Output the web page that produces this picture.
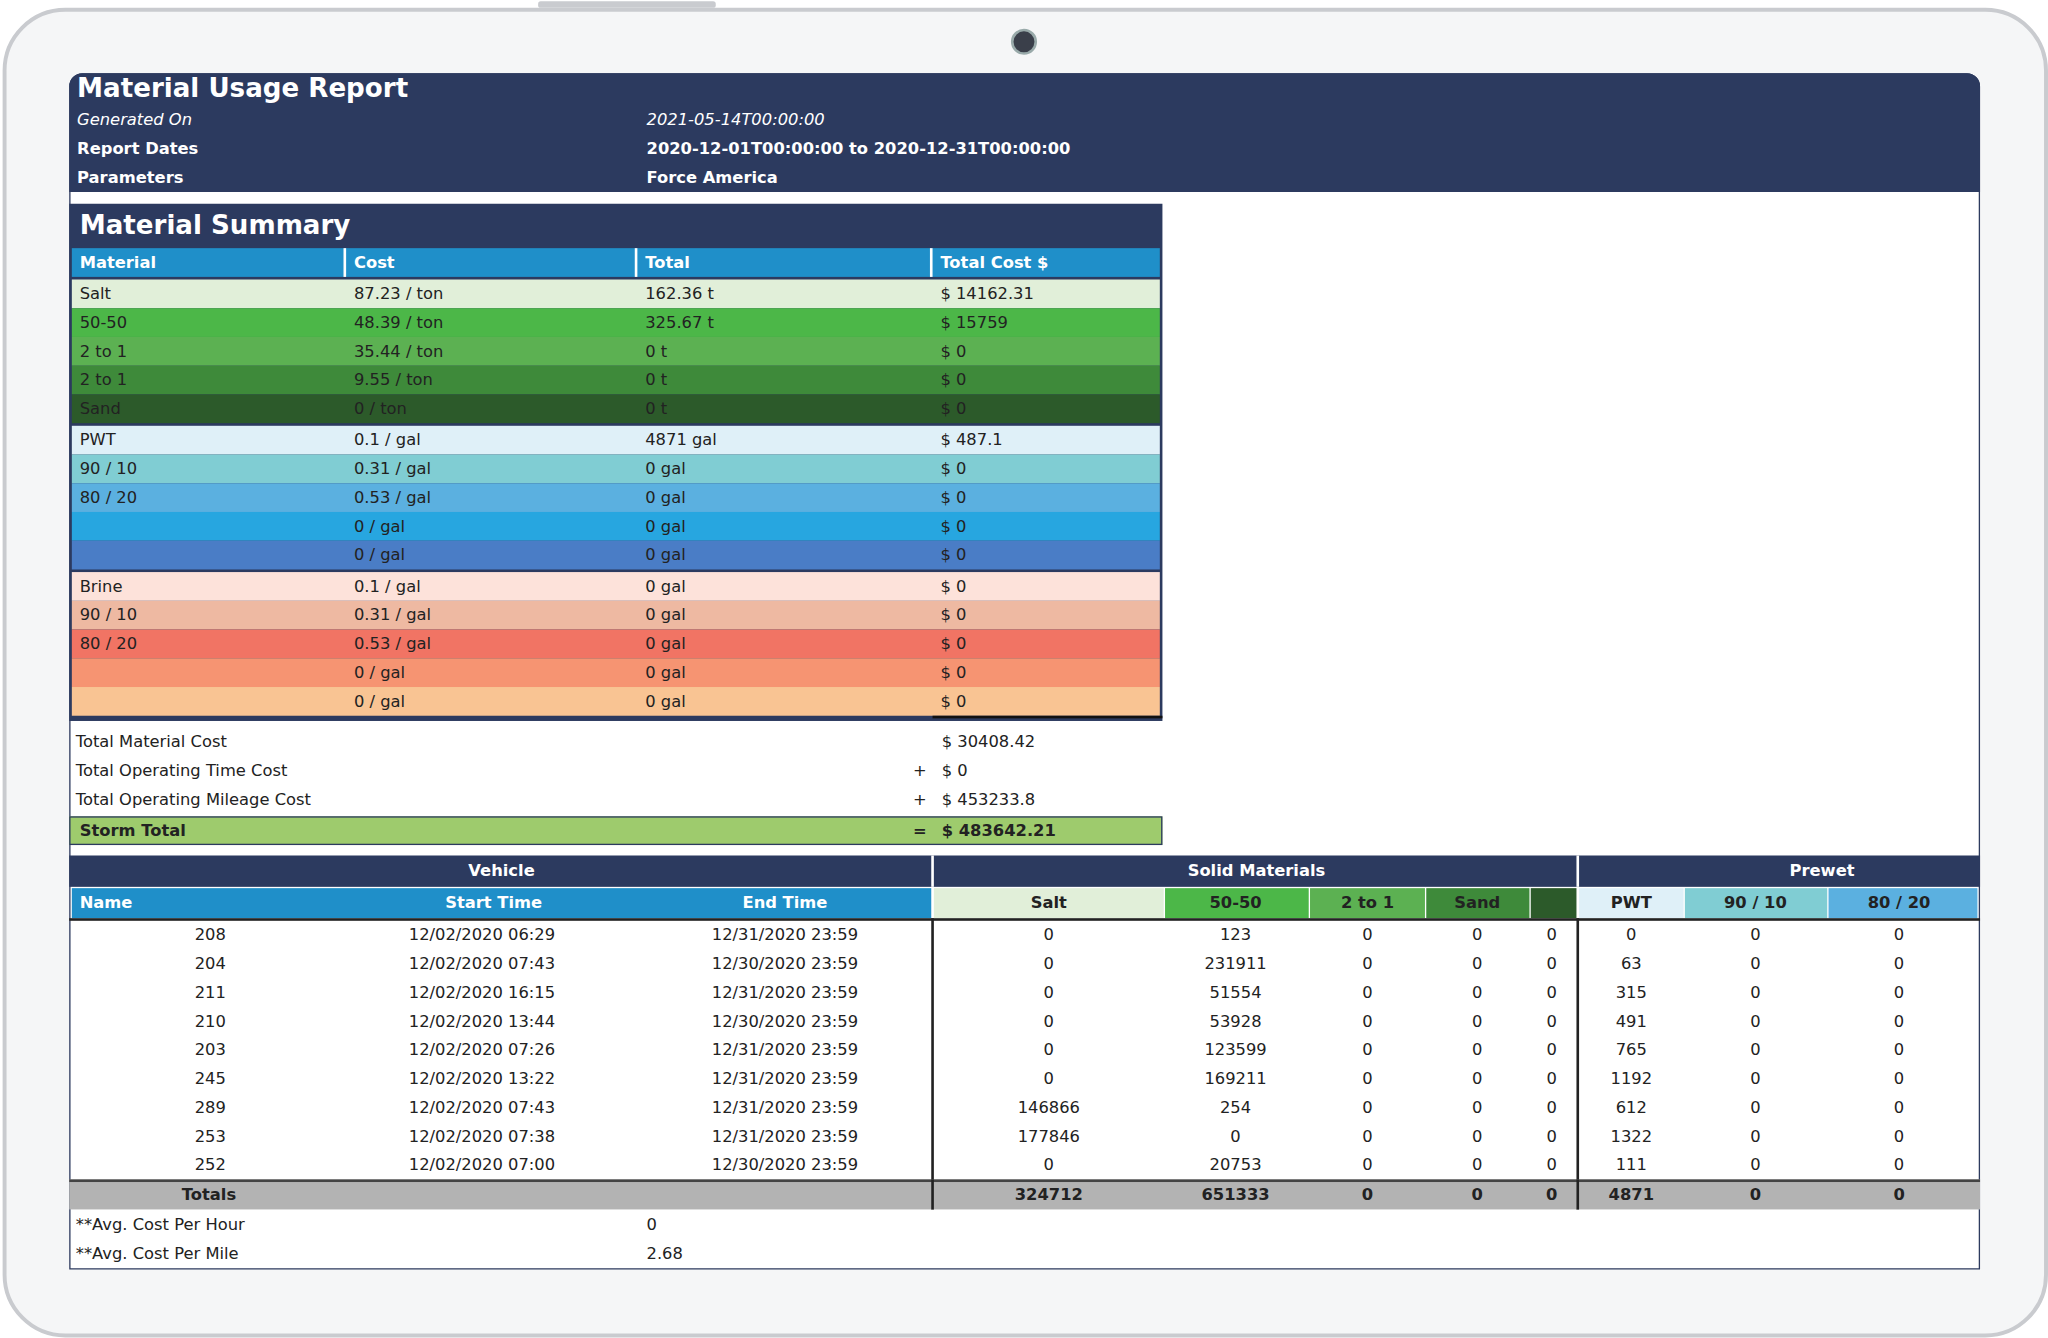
<!DOCTYPE html>
<html><head><meta charset="utf-8">
<script src="https://cdn.jsdelivr.net/npm/chart.js@4"></script>
<style>
html,body{margin:0;padding:0;background:#fff;width:2048px;height:1338px;overflow:hidden}
#stage{position:absolute;left:0;top:0;width:1568px;height:1024px;transform:scale(1.3061);transform-origin:0 0;font-family:"DejaVu Sans",Verdana,sans-serif;font-size:12.5px;color:#222}
.a{position:absolute;white-space:nowrap}
.dev{position:absolute;left:2px;top:6px;width:1560px;height:1012px;border:3px solid #c9cbcf;border-radius:48px;background:#f5f6f7}
</style></head><body>
<div id="stage">
<div class="dev"></div>
<div class="a" style="left:412px;top:1px;width:136px;height:5px;background:#c9cbcf;border-radius:2px"></div>
<div class="a" style="left:774px;top:22px;width:16px;height:16px;border-radius:50%;background:#3a3f4a;border:2px solid #9aa"></div>
<div class="a" style="left:53px;top:56px;width:1463px;height:916px;background:#fff;border:1px solid #2d3a5e;border-radius:10px 10px 0 0;box-sizing:border-box"></div>
<div id="root"></div>
</div>
<script>
const reportTitle="Material Usage Report";
const headerLabels=["Generated On","Report Dates","Parameters"];
const headerValues=["2021-05-14T00:00:00","2020-12-01T00:00:00 to 2020-12-31T00:00:00","Force America"];
const summaryCols=["Material","Cost","Total","Total Cost $"];
const materials=["Salt","50-50","2 to 1","2 to 1","Sand","PWT","90 / 10","80 / 20","","","Brine","90 / 10","80 / 20","",""];
const costs=["87.23 / ton","48.39 / ton","35.44 / ton","9.55 / ton","0 / ton","0.1 / gal","0.31 / gal","0.53 / gal","0 / gal","0 / gal","0.1 / gal","0.31 / gal","0.53 / gal","0 / gal","0 / gal"];
const totals=["162.36 t","325.67 t","0 t","0 t","0 t","4871 gal","0 gal","0 gal","0 gal","0 gal","0 gal","0 gal","0 gal","0 gal","0 gal"];
const totalCosts=["$ 14162.31","$ 15759","$ 0","$ 0","$ 0","$ 487.1","$ 0","$ 0","$ 0","$ 0","$ 0","$ 0","$ 0","$ 0","$ 0"];
const rowColors=["#e1efd9","#4cb748","#5cb152","#3e8a3a","#2c5a2a","#dff0f8","#80cdd3","#5bb0e0","#27a6e0","#4a7dc6","#fde2da","#eeb9a2","#f17464","#f69472","#f9c493"];
const costLabels=["Total Material Cost","Total Operating Time Cost","Total Operating Mileage Cost"];
const costSigns=["","+","+"];
const costValues=["$ 30408.42","$ 0","$ 453233.8"];
const stormTotal="$ 483642.21";
const vehicles=["208","204","211","210","203","245","289","253","252"];
const startTimes=["12/02/2020 06:29","12/02/2020 07:43","12/02/2020 16:15","12/02/2020 13:44","12/02/2020 07:26","12/02/2020 13:22","12/02/2020 07:43","12/02/2020 07:38","12/02/2020 07:00"];
const endTimes=["12/31/2020 23:59","12/30/2020 23:59","12/31/2020 23:59","12/30/2020 23:59","12/31/2020 23:59","12/31/2020 23:59","12/31/2020 23:59","12/31/2020 23:59","12/30/2020 23:59"];
const saltUse=[0,0,0,0,0,0,146866,177846,0];
const fiftyUse=[123,231911,51554,53928,123599,169211,254,0,20753];
const twoToOneUse=[0,0,0,0,0,0,0,0,0];
const sandUse=[0,0,0,0,0,0,0,0,0];
const blankUse=[0,0,0,0,0,0,0,0,0];
const pwtUse=[0,63,315,491,765,1192,612,1322,111];
const ninetyUse=[0,0,0,0,0,0,0,0,0];
const eightyUse=[0,0,0,0,0,0,0,0,0];
const usageTotals=["324712","651333","0","0","0","4871","0","0"];
const avgLabels=["**Avg. Cost Per Hour","**Avg. Cost Per Mile"];
const avgValues=["0","2.68"];

const R=document.getElementById('root');let h='';
function box(l,t,w,ht,bg,extra){h+=`<div class="a" style="left:${l}px;top:${t}px;width:${w}px;height:${ht}px;background:${bg};${extra||''}"></div>`;}
function txt(l,t,s,st){h+=`<div class="a" style="left:${l}px;top:${t}px;${st||''}">${s}</div>`;}
function ctr(c,t,s,st){h+=`<div class="a" style="left:${c-100}px;width:200px;text-align:center;top:${t}px;${st||''}">${s}</div>`;}
const W='color:#fff;';
// header
box(53,56,1463,91,'#2c3a5f','border-radius:10px 10px 0 0');
txt(59,55,reportTitle,W+'font-size:20px;font-weight:bold');
headerLabels.forEach((s,i)=>{const it=i==0?'font-style:italic;':'font-weight:bold;';txt(59,84+i*22,s,W+it);txt(495,84+i*22,headerValues[i],W+it);});
// summary
box(53,156,837,396,'#2c3a5f');
txt(61,160,"Material Summary",W+'font-size:20px;font-weight:bold');
box(55,190,833,22,'#1f8fc9');
const cx=[55,265,488,714];
summaryCols.forEach((s,i)=>{if(i)box(cx[i]-2,190,2,22,'#fff');txt(cx[i]+6,193,s,W+'font-weight:bold');});
let y=214;
materials.forEach((m,i)=>{if(i==5||i==10)y+=2;box(55,y,833,22,rowColors[i]);
 [m,costs[i],totals[i],totalCosts[i]].forEach((s,j)=>txt(cx[j]+6,y+3,s));y+=22;});
box(714,548,176,2,'#111');
costLabels.forEach((s,i)=>{txt(58,560+i*22,s);txt(699,560+i*22,costSigns[i]);txt(721,560+i*22,costValues[i]);});
box(53,625,837,22,'#9ecb6d','border:1px solid #2c3a5f;box-sizing:border-box');
txt(61,628,"Storm Total",'font-weight:bold');txt(699,628,"=",'font-weight:bold');txt(721,628,stormTotal,'font-weight:bold');
// usage table
box(53,655,1463,24,'#2c3a5f');
ctr(384,659,"Vehicle",W+'font-weight:bold');ctr(962,659,"Solid Materials",W+'font-weight:bold');ctr(1395,659,"Prewet",W+'font-weight:bold');
box(713,655,2,24,'#fff');box(1207,655,2,24,'#fff');
box(55,680,658,23,'#1f8fc9');
txt(61,683,"Name",W+'font-weight:bold');ctr(378,683,"Start Time",W+'font-weight:bold');ctr(601,683,"End Time",W+'font-weight:bold');
const uc=[[715,176,'#e1efd9','Salt',803],[892,110,'#4cb748','50-50',946],[1003,88,'#5cb152','2 to 1',1047],[1092,79,'#3e8a3a','Sand',1131],[1172,35,'#2c5a2a','',1188],[1209,80,'#dff0f8','PWT',1249],[1290,109,'#80cdd3','90 / 10',1344],[1400,114,'#5bb0e0','80 / 20',1454]];
uc.forEach(c=>{box(c[0],680,c[1],23,c[2]);ctr(c[4],683,c[3],'font-weight:bold;color:#222');});
box(53,703,1463,2,'#222');
const cols=[saltUse,fiftyUse,twoToOneUse,sandUse,blankUse,pwtUse,ninetyUse,eightyUse];
vehicles.forEach((v,i)=>{const ty=708+i*22;ctr(161,ty,v);ctr(369,ty,startTimes[i]);ctr(601,ty,endTimes[i]);
 cols.forEach((a,j)=>ctr(uc[j][4],ty,a[i]));});
box(713,703,2,223,'#222');box(1207,703,2,223,'#222');
box(53,903,1463,23,'#b3b3b3','border-top:2px solid #444;box-sizing:border-box');
box(713,903,2,23,'#222');box(1207,903,2,23,'#222');
ctr(160,907,"Totals",'font-weight:bold');
usageTotals.forEach((s,j)=>ctr(uc[j][4],907,s,'font-weight:bold'));
avgLabels.forEach((s,i)=>{txt(58,930+i*22,s);txt(495,930+i*22,avgValues[i]);});
R.innerHTML=h;
</script>
</body></html>
